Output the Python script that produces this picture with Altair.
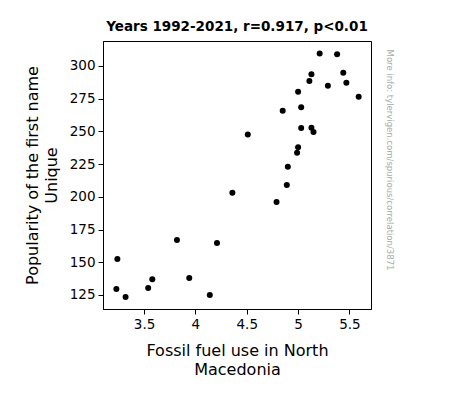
import altair as alt
import pandas as pd

# values
fossil_fuel = [
    3.23, 3.24, 3.32, 3.54, 3.58, 3.82, 3.94, 4.14, 4.21, 4.36,
    4.51, 4.79, 4.89, 4.90, 4.85, 5.00, 5.03, 5.03, 5.13, 5.15,
    5.00, 4.99, 5.11, 5.13, 5.21, 5.38, 5.44, 5.29, 5.47, 5.59,
]
name_popularity = [
    129.6, 152.5, 123.5, 130.3, 137, 167, 138, 125, 164.7, 203,
    247.5, 196, 209, 223, 265.8, 280.3, 268.4, 252.6, 252.8, 249.5,
    237.8, 233.7, 288.5, 293.6, 309.4, 308.9, 294.8, 284.9, 287.2, 276.5,
]
x_ticks = [3.5, 4, 4.5, 5, 5.5]
y_ticks = [125, 150, 175, 200, 225, 250, 275, 300]

df = pd.DataFrame({"fuel": fossil_fuel, "name": name_popularity})

points = alt.Chart(df).mark_circle(size=36, color="black", opacity=1).encode(
    x=alt.X(
        "fuel:Q",
        scale=alt.Scale(domain=[3.1, 5.71], nice=False, zero=False),
        axis=alt.Axis(
            values=x_ticks,
            format=".1~f",
            title=["Fossil fuel use in North", "Macedonia"],
            titlePadding=12,
        ),
    ),
    y=alt.Y(
        "name:Q",
        scale=alt.Scale(domain=[114.3, 319], nice=False, zero=False),
        axis=alt.Axis(
            values=y_ticks,
            title=["Popularity of the first name", "Unique"],
            titlePadding=10,
        ),
    ),
)

note = alt.Chart(pd.DataFrame({"t": ["More info: tylervigen.com/spurious/correlation/3871"]})).mark_text(
    angle=90, fontSize=8.5, color="#aaaaaa", font="DejaVu Sans"
).encode(
    x=alt.value(287),
    y=alt.value(119),
    text="t:N",
)

chart = alt.layer(points, note).properties(
    width=268,
    height=268,
    title=alt.TitleParams(
        "Years 1992-2021, r=0.917, p<0.01",
        fontSize=13.5,
        fontWeight="bold",
        font="DejaVu Sans",
        color="black",
        offset=8,
    ),
    autosize=alt.AutoSizeParams(type="none"),
    padding={"left": 95, "top": 33, "right": 95, "bottom": 95},
).configure_view(
    stroke="black",
    strokeWidth=1,
).configure_axis(
    grid=False,
    domainColor="black",
    tickColor="black",
    tickSize=5,
    labelFont="DejaVu Sans",
    labelFontSize=13.5,
    labelColor="black",
    labelPadding=3,
    titleFont="DejaVu Sans",
    titleFontSize=16,
    titleFontWeight="normal",
    titleColor="black",
    titleLineHeight=19,
)

chart.save("out.html", embed_options={"renderer": "svg", "actions": False})
